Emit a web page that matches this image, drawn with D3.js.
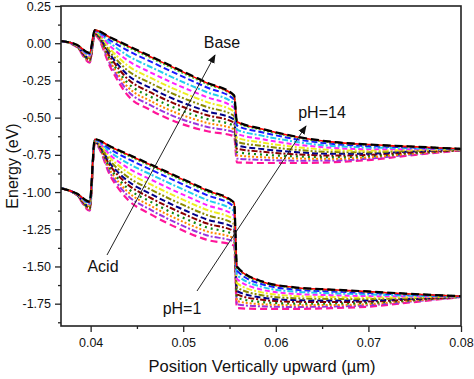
<!DOCTYPE html>
<html>
<head>
<meta charset="utf-8">
<script src="https://cdn.jsdelivr.net/npm/d3@7"></script>
<style>
  html, body { margin: 0; padding: 0; background: #fff; }
  svg { display: block; font-family: Arial, "Liberation Sans", sans-serif; }
</style>
</head>
<body>
<svg id="chart" width="474" height="379"></svg>
<script>
// ---------------- DATA ----------------
const xGrid = [0.0368, 0.0385, 0.0399, 0.04045, 0.0422, 0.0440, 0.0465, 0.0495, 0.0525, 0.0555, 0.0558, 0.0585, 0.0620, 0.0660, 0.0700, 0.0740, 0.0800];

const seriesNames = ["pH=14","pH=13","pH=12","pH=11","pH=10","pH=9","pH=8","pH=7","pH=6","pH=5","pH=4","pH=3","pH=2","pH=1"];

// upper band (eV)
const upper_pH14 = [0.015, -0.010, -0.065, 0.088, 0.037, -0.016, -0.088, -0.176, -0.263, -0.350, -0.525, -0.575, -0.625, -0.662, -0.680, -0.692, -0.710];
const upper_pH13 = [0.015, -0.010, -0.066, 0.088, 0.035, -0.019, -0.092, -0.180, -0.266, -0.353, -0.528, -0.577, -0.627, -0.663, -0.681, -0.693, -0.710];
const upper_pH12 = [0.015, -0.010, -0.067, 0.087, 0.031, -0.026, -0.099, -0.187, -0.273, -0.358, -0.533, -0.582, -0.630, -0.666, -0.683, -0.694, -0.710];
const upper_pH11 = [0.015, -0.012, -0.072, 0.085, 0.016, -0.049, -0.124, -0.212, -0.296, -0.378, -0.553, -0.598, -0.643, -0.676, -0.691, -0.699, -0.711];
const upper_pH10 = [0.015, -0.013, -0.078, 0.081, -0.004, -0.083, -0.160, -0.248, -0.328, -0.405, -0.580, -0.621, -0.661, -0.690, -0.701, -0.705, -0.712];
const upper_pH9  = [0.015, -0.015, -0.085, 0.078, -0.025, -0.116, -0.197, -0.284, -0.361, -0.433, -0.608, -0.644, -0.679, -0.703, -0.712, -0.712, -0.713];
const upper_pH8  = [0.015, -0.016, -0.091, 0.075, -0.046, -0.150, -0.233, -0.320, -0.394, -0.460, -0.635, -0.667, -0.697, -0.717, -0.722, -0.718, -0.714];
const upper_pH7  = [0.015, -0.018, -0.098, 0.072, -0.067, -0.183, -0.269, -0.356, -0.427, -0.488, -0.663, -0.690, -0.715, -0.731, -0.733, -0.725, -0.715];
const upper_pH6  = [0.015, -0.019, -0.103, 0.069, -0.085, -0.213, -0.302, -0.388, -0.456, -0.512, -0.687, -0.711, -0.731, -0.743, -0.742, -0.730, -0.716];
const upper_pH5  = [0.015, -0.020, -0.109, 0.066, -0.102, -0.240, -0.331, -0.417, -0.482, -0.534, -0.709, -0.729, -0.746, -0.755, -0.750, -0.736, -0.717];
const upper_pH4  = [0.015, -0.021, -0.114, 0.063, -0.118, -0.267, -0.360, -0.445, -0.508, -0.556, -0.731, -0.748, -0.760, -0.766, -0.759, -0.741, -0.718];
const upper_pH3  = [0.015, -0.022, -0.119, 0.061, -0.135, -0.293, -0.389, -0.474, -0.534, -0.578, -0.753, -0.766, -0.774, -0.777, -0.767, -0.746, -0.718];
const upper_pH2  = [0.015, -0.024, -0.124, 0.058, -0.151, -0.320, -0.417, -0.503, -0.561, -0.600, -0.775, -0.784, -0.789, -0.788, -0.776, -0.751, -0.719];
const upper_pH1  = [0.015, -0.025, -0.130, 0.055, -0.170, -0.350, -0.450, -0.535, -0.590, -0.625, -0.800, -0.805, -0.805, -0.800, -0.785, -0.757, -0.720];

// lower band (eV)
const lower_pH14 = [-0.975, -1.010, -1.065, -0.645, -0.695, -0.745, -0.815, -0.900, -0.985, -1.070, -1.500, -1.600, -1.640, -1.655, -1.668, -1.682, -1.700];
const lower_pH13 = [-0.975, -1.010, -1.066, -0.645, -0.697, -0.748, -0.818, -0.903, -0.988, -1.073, -1.503, -1.602, -1.641, -1.656, -1.669, -1.683, -1.700];
const lower_pH12 = [-0.975, -1.010, -1.067, -0.646, -0.701, -0.754, -0.825, -0.910, -0.995, -1.079, -1.508, -1.606, -1.644, -1.659, -1.671, -1.684, -1.700];
const lower_pH11 = [-0.975, -1.011, -1.071, -0.648, -0.716, -0.776, -0.849, -0.935, -1.019, -1.099, -1.528, -1.619, -1.655, -1.668, -1.678, -1.688, -1.701];
const lower_pH10 = [-0.975, -1.012, -1.077, -0.651, -0.736, -0.806, -0.882, -0.969, -1.052, -1.128, -1.556, -1.637, -1.669, -1.680, -1.688, -1.695, -1.701];
const lower_pH9  = [-0.975, -1.013, -1.083, -0.654, -0.757, -0.837, -0.916, -1.004, -1.086, -1.157, -1.584, -1.656, -1.684, -1.693, -1.699, -1.701, -1.702];
const lower_pH8  = [-0.975, -1.014, -1.089, -0.657, -0.777, -0.867, -0.949, -1.038, -1.119, -1.186, -1.612, -1.674, -1.698, -1.705, -1.709, -1.707, -1.702];
const lower_pH7  = [-0.975, -1.015, -1.095, -0.660, -0.798, -0.898, -0.983, -1.073, -1.153, -1.215, -1.640, -1.693, -1.713, -1.718, -1.719, -1.714, -1.703];
const lower_pH6  = [-0.975, -1.016, -1.100, -0.663, -0.816, -0.925, -1.013, -1.104, -1.183, -1.241, -1.665, -1.709, -1.726, -1.729, -1.728, -1.719, -1.703];
const lower_pH5  = [-0.975, -1.017, -1.105, -0.665, -0.832, -0.949, -1.040, -1.131, -1.210, -1.264, -1.688, -1.724, -1.737, -1.739, -1.736, -1.724, -1.703];
const lower_pH4  = [-0.975, -1.018, -1.110, -0.668, -0.849, -0.974, -1.066, -1.159, -1.236, -1.288, -1.710, -1.739, -1.749, -1.749, -1.745, -1.729, -1.704];
const lower_pH3  = [-0.975, -1.018, -1.115, -0.670, -0.865, -0.998, -1.093, -1.186, -1.263, -1.311, -1.732, -1.754, -1.760, -1.759, -1.753, -1.734, -1.704];
const lower_pH2  = [-0.975, -1.019, -1.120, -0.672, -0.882, -1.023, -1.120, -1.214, -1.290, -1.334, -1.755, -1.768, -1.772, -1.769, -1.761, -1.739, -1.705];
const lower_pH1  = [-0.975, -1.020, -1.125, -0.675, -0.900, -1.050, -1.150, -1.245, -1.320, -1.360, -1.780, -1.785, -1.785, -1.780, -1.770, -1.745, -1.705];

const upperSeries = [upper_pH14, upper_pH13, upper_pH12, upper_pH11, upper_pH10, upper_pH9, upper_pH8, upper_pH7, upper_pH6, upper_pH5, upper_pH4, upper_pH3, upper_pH2, upper_pH1];
const lowerSeries = [lower_pH14, lower_pH13, lower_pH12, lower_pH11, lower_pH10, lower_pH9, lower_pH8, lower_pH7, lower_pH6, lower_pH5, lower_pH4, lower_pH3, lower_pH2, lower_pH1];

const xTicks = [0.04, 0.05, 0.06, 0.07, 0.08];
const xMinorTicks = [0.045, 0.055, 0.065, 0.075];
const yTicks = [0.25, 0.00, -0.25, -0.50, -0.75, -1.00, -1.25, -1.50, -1.75];
const yMinorTicks = [0.125, -0.125, -0.375, -0.625, -0.875, -1.125, -1.375, -1.625, -1.875];

// ---------------- STYLES ----------------
const colors = ["#000000", "#ff0000", "#33dd33", "#1a1aff", "#22ccee", "#ff22ff", "#eeee22", "#8a8a00", "#000088", "#8b0000", "#118811", "#ff8800", "#9933dd", "#ff1499"];
const dashes = ["8,4", null, "2,2", "6,3", "6,2,2,2", "5,3", "6,2,2,2", "6,2,2,2,2,2", "6,3", "6,2,2,2", "2,4", "2,2", "6,2,2,2", "7,4"];
const widths = [2.2, 1.6, 2, 2, 2, 2, 2, 2, 2, 2, 2.2, 2, 2, 2.2];

// ---------------- CHART ----------------
const svg = d3.select("#chart");
const L = 61, R = 461, T = 6, B = 326;

const x = d3.scaleLinear().domain([0.0368, 0.08]).range([L, R]);
const y = d3.scaleLinear().domain([-1.9, 0.25]).range([B, T]);

svg.append("defs").append("clipPath").attr("id", "plotclip")
  .append("rect").attr("x", L).attr("y", T).attr("width", R - L).attr("height", B - T);

const line = d3.line()
  .x((d, i) => x(xGrid[i]))
  .y(d => y(d))
  .curve(d3.curveMonotoneX);

const plot = svg.append("g").attr("clip-path", "url(#plotclip)");

function drawBand(seriesList) {
  for (let k = seriesList.length - 1; k >= 0; k--) {
    plot.append("path")
      .attr("d", line(seriesList[k]))
      .attr("fill", "none")
      .attr("stroke", colors[k])
      .attr("stroke-width", widths[k])
      .attr("stroke-dasharray", dashes[k])
      .attr("stroke-linejoin", "round");
  }
}
drawBand(upperSeries);
drawBand(lowerSeries);

// axes
const fmt = v => d3.format(".2f")(v).replace("\u2212", "-");
const axisColor = "#222";

svg.append("g").attr("transform", `translate(${L},0)`)
  .call(d3.axisLeft(y).tickValues(yTicks).tickFormat(fmt).tickSize(6).tickPadding(4));
svg.append("g").attr("transform", `translate(${L},0)`)
  .call(d3.axisLeft(y).tickValues(yMinorTicks).tickFormat("").tickSize(3));

svg.append("g").attr("transform", `translate(0,${B})`)
  .call(d3.axisBottom(x).tickValues(xTicks).tickFormat(d3.format(".2f")).tickSize(6).tickPadding(6));
svg.append("g").attr("transform", `translate(0,${B})`)
  .call(d3.axisBottom(x).tickValues(xMinorTicks).tickFormat("").tickSize(3));

svg.selectAll(".domain").remove();
svg.selectAll(".tick line").attr("stroke", axisColor).attr("stroke-width", 1.3);
svg.selectAll(".tick text").attr("font-size", 12.5).attr("fill", "#111")
  .attr("font-family", "Arial, 'Liberation Sans', sans-serif");

// frame
svg.append("rect").attr("x", L).attr("y", T).attr("width", R - L).attr("height", B - T)
  .attr("fill", "none").attr("stroke", axisColor).attr("stroke-width", 1.6);

// axis labels
svg.append("text").attr("x", 262).attr("y", 372)
  .attr("text-anchor", "middle").attr("font-size", 16.5).attr("fill", "#111")
  .text("Position Vertically upward (\u00b5m)");
svg.append("text").attr("transform", `translate(18,${(T + B) / 2}) rotate(-90)`)
  .attr("text-anchor", "middle").attr("font-size", 16).attr("fill", "#111")
  .text("Energy (eV)");

// annotations
svg.select("defs").append("marker").attr("id", "arr")
  .attr("viewBox", "0 0 10 10").attr("refX", 9).attr("refY", 5)
  .attr("markerWidth", 9).attr("markerHeight", 9).attr("markerUnits", "userSpaceOnUse")
  .attr("orient", "auto")
  .append("path").attr("d", "M0,1 L10,5 L0,9 Z").attr("fill", "#111");

svg.append("line").attr("x1", 107).attr("y1", 255).attr("x2", 215).attr("y2", 55)
  .attr("stroke", "#222").attr("stroke-width", 1).attr("marker-end", "url(#arr)");
svg.append("line").attr("x1", 197).attr("y1", 291).attr("x2", 306).attr("y2", 126)
  .attr("stroke", "#222").attr("stroke-width", 1).attr("marker-end", "url(#arr)");

const ann = [
  { t: "Base", x: 222, y: 48 },
  { t: "Acid", x: 103, y: 272 },
  { t: "pH=14", x: 322, y: 118 },
  { t: "pH=1", x: 182, y: 314 }
];
svg.selectAll(".ann").data(ann).enter().append("text")
  .attr("x", d => d.x).attr("y", d => d.y).attr("text-anchor", "middle")
  .attr("font-size", 16).attr("fill", "#111").text(d => d.t);
</script>
</body>
</html>
